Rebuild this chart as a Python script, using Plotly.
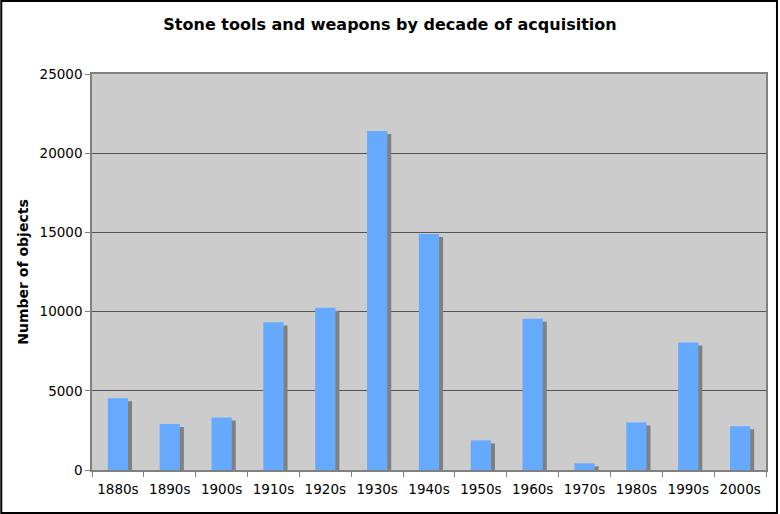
import plotly.graph_objects as go

decades = ["1880s", "1890s", "1900s", "1910s", "1920s", "1930s", "1940s",
           "1950s", "1960s", "1970s", "1980s", "1990s", "2000s"]
objects = [4530, 2900, 3310, 9320, 10250, 21400, 14900,
           1870, 9550, 420, 3000, 8050, 2760]
y_ticks = [0, 5000, 10000, 15000, 20000, 25000]
y_labels = ["0", "5000", "10000", "15000", "20000", "25000"]

W, H = 780, 514
L, R, T, B = 92, 12, 74, 44
bar_w = 0.39
shadow_dx = 0.077   # ~4 px to the right
shadow_dy = 190     # ~3 px down

fig = go.Figure()
fig.add_trace(go.Bar(
    x=decades, y=[max(v - shadow_dy, 0) for v in objects],
    width=bar_w, offset=-bar_w / 2 + shadow_dx,
    marker=dict(color="#808080", line=dict(width=0)),
    hoverinfo="skip", showlegend=False,
))
fig.add_trace(go.Bar(
    x=decades, y=objects,
    width=bar_w, offset=-bar_w / 2,
    marker=dict(color="#66AAFF", line=dict(width=0)),
    showlegend=False,
))

pw, ph = W - L - R, H - T - B
fig.add_shape(type="rect", xref="paper", yref="paper",
              x0=-(L - 1) / pw, x1=1 + (R - 1) / pw,
              y0=-(B - 1) / ph, y1=1 + (T - 1) / ph,
              line=dict(color="black", width=2), layer="below")

fig.update_layout(
    width=W, height=H,
    margin=dict(l=L, r=R, t=T, b=B),
    barmode="overlay",
    paper_bgcolor="white",
    plot_bgcolor="#CCCCCC",
    font=dict(family="DejaVu Sans", size=13.5, color="black"),
    title=dict(text="<b>Stone tools and weapons by decade of acquisition</b>",
               x=0.5, xanchor="center", y=1 - 24 / H, yanchor="middle",
               font=dict(size=16)),
    xaxis=dict(
        showgrid=False, showline=True, linecolor="#808080", linewidth=1.5,
        mirror=True, ticks="outside", ticklen=5, tickcolor="#808080",
        tickson="boundaries", ticklabelstandoff=6,
    ),
    yaxis=dict(
        range=[0, 25000], tickvals=y_ticks, ticktext=y_labels,
        showgrid=True, gridcolor="#555555", gridwidth=1,
        showline=True, linecolor="#808080", linewidth=1.5, mirror=True,
        ticks="outside", ticklen=5, tickcolor="#808080",
        zeroline=False,
        title=dict(text="<b>Number of objects</b>", standoff=8,
                   font=dict(size=14)),
    ),
)

fig.write_html("out.html", config={"displayModeBar": False},
               post_script="document.body.style.margin='0';"
                           "document.body.style.overflow='hidden';")
